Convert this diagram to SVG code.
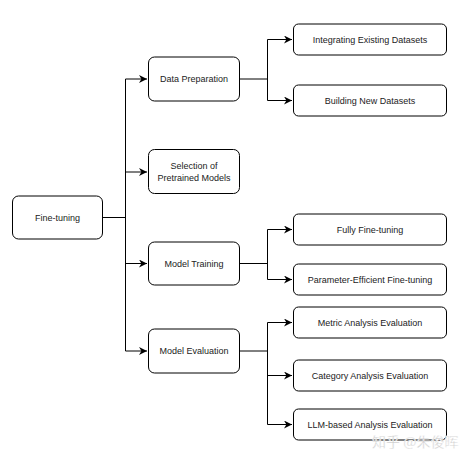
<svg xmlns="http://www.w3.org/2000/svg" width="474" height="461" viewBox="0 0 474 461">
<defs>
<style>
.box{fill:#fff;stroke:#000;stroke-width:1}
.t{font-family:"Liberation Sans",Arial,sans-serif;font-size:9px;fill:#222;text-anchor:middle;dominant-baseline:central}
.c{fill:none;stroke:#000;stroke-width:1}
.wm{font-family:"Noto Sans CJK SC",sans-serif;font-size:14px;fill:#c8c8c8;stroke:#fff;stroke-width:0.4}
</style>
<marker id="a" viewBox="0 0 10 10" refX="10" refY="5" markerWidth="8" markerHeight="8" markerUnits="userSpaceOnUse" orient="auto">
<path d="M0,0 L10,5 L0,10 L3,5 z" fill="#000"/>
</marker>
</defs>
<rect width="474" height="461" fill="#fff"/>
<g id="connectors">
<path class="c" d="M102,217.5 H125.5"/>
<path class="c" d="M125.5,79 V351"/>
<path class="c" d="M125.5,79 H147" marker-end="url(#a)"/>
<path class="c" d="M125.5,172 H147" marker-end="url(#a)"/>
<path class="c" d="M125.5,263.5 H147" marker-end="url(#a)"/>
<path class="c" d="M125.5,351 H147" marker-end="url(#a)"/>
<path class="c" d="M239,79 H267.5 M267.5,39.5 V100.5"/>
<path class="c" d="M267.5,39.5 H292" marker-end="url(#a)"/>
<path class="c" d="M267.5,100.5 H292" marker-end="url(#a)"/>
<path class="c" d="M239,263.5 H267.5 M267.5,229.5 V279.5"/>
<path class="c" d="M267.5,229.5 H292" marker-end="url(#a)"/>
<path class="c" d="M267.5,279.5 H292" marker-end="url(#a)"/>
<path class="c" d="M239,351 H267.5 M267.5,322.5 V424.5"/>
<path class="c" d="M267.5,322.5 H292" marker-end="url(#a)"/>
<path class="c" d="M267.5,375.5 H292" marker-end="url(#a)"/>
<path class="c" d="M267.5,424.5 H292" marker-end="url(#a)"/>
</g>
<g id="fine-tuning"><rect class="box" x="12.5" y="196" width="90" height="43" rx="6"/><text class="t" x="57.5" y="217.5">Fine-tuning</text></g>
<g id="data-preparation"><rect class="box" x="148.5" y="57" width="91" height="44" rx="6"/><text class="t" x="194" y="79">Data Preparation</text></g>
<g id="selection"><rect class="box" x="148.5" y="149.5" width="91" height="44" rx="6"/><text class="t" x="194" y="166">Selection of</text><text class="t" x="194" y="178">Pretrained Models</text></g>
<g id="model-training"><rect class="box" x="148.5" y="242" width="91" height="43" rx="6"/><text class="t" x="194" y="263.5">Model Training</text></g>
<g id="model-evaluation"><rect class="box" x="148.5" y="329" width="91" height="44" rx="6"/><text class="t" x="194" y="351">Model Evaluation</text></g>
<g id="integrating"><rect class="box" x="293.5" y="24" width="153" height="31" rx="5"/><text class="t" x="370" y="39.5">Integrating Existing Datasets</text></g>
<g id="building"><rect class="box" x="293.5" y="85" width="153" height="31" rx="5"/><text class="t" x="370" y="100.5">Building New Datasets</text></g>
<g id="fully"><rect class="box" x="293.5" y="214" width="153" height="31" rx="5"/><text class="t" x="370" y="229.5">Fully Fine-tuning</text></g>
<g id="peft"><rect class="box" x="293.5" y="264" width="153" height="31" rx="5"/><text class="t" x="370" y="279.5">Parameter-Efficient Fine-tuning</text></g>
<g id="metric"><rect class="box" x="293.5" y="307" width="153" height="31" rx="5"/><text class="t" x="370" y="322.5">Metric Analysis Evaluation</text></g>
<g id="category"><rect class="box" x="293.5" y="360" width="153" height="31" rx="5"/><text class="t" x="370" y="375.5">Category Analysis Evaluation</text></g>
<g id="llm"><rect class="box" x="293.5" y="409" width="153" height="31" rx="5"/><text class="t" x="370" y="424.5">LLM-based Analysis Evaluation</text></g>
<text class="wm" x="372" y="447">知乎 @朱俊晖</text>
</svg>
